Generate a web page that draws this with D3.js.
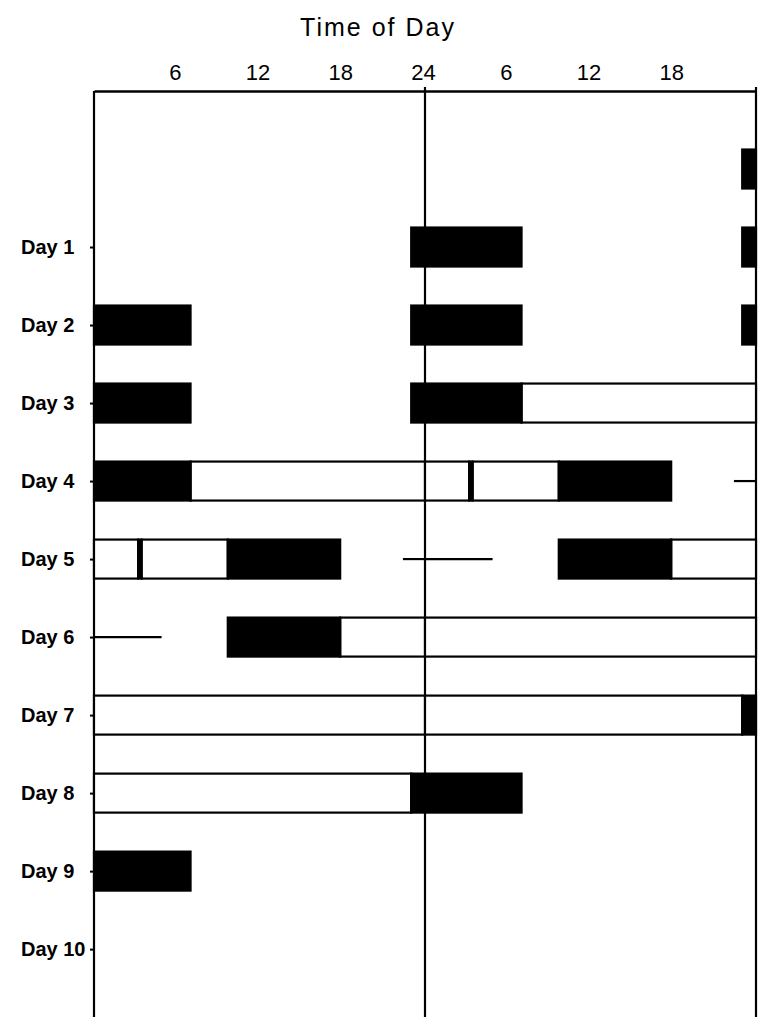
<!DOCTYPE html>
<html>
<head>
<meta charset="utf-8">
<script src="https://cdn.jsdelivr.net/npm/d3@7"></script>
<style>
  body { margin: 0; background: #fff; }
</style>
</head>
<body>
<div id="actogram"></div>
<script>
// row labels (row 0 at the top has none)
const dayLabels = ["", "Day 1", "Day 2", "Day 3", "Day 4", "Day 5", "Day 6", "Day 7", "Day 8", "Day 9", "Day 10"];

// hour ticks along the top (double plotted, 0-48 h)
const hourTicks = [6, 12, 18, 24, 30, 36, 42];

// bouts per calendar day: [day, startHour, endHour]
const sleepBouts = [
    [1, 23, 24],
    [2, 0, 7], [2, 23, 24],
    [3, 0, 7], [3, 23, 24],
    [4, 0, 7],
    [5, 3.2, 3.45], [5, 9.7, 17.85],
    [6, 9.7, 17.85],
    [8, 23, 24],
    [9, 0, 7]
];
const wakeBouts = [
    [4, 7, 24],
    [5, 0, 3.2], [5, 3.45, 9.7],
    [6, 17.85, 24],
    [7, 0, 24],
    [8, 0, 23]
];
const lineBouts = [
    [5, 22.4, 24],
    [6, 0, 4.9]
];

function drawChart() {
    const W = 784, H = 1030;
    const svg = d3.select("#actogram")
        .append("svg")
        .attr("width", W)
        .attr("height", H);

    const plotTop = 91, plotBottom = 1017;

    const x = d3.scaleLinear()
        .domain([0, 48])
        .range([94, 756]);

    const y = d3.scaleLinear()
        .domain([-1, 10.87])
        .range([plotTop, plotBottom]);

    const barH = 39;

    // each calendar day shows up twice: left half of its own row and right half of the row above
    function doublePlot(bouts) {
        const out = [];
        bouts.forEach(function (b) {
            const day = b[0];
            if (day <= 10) out.push({ row: day, s: b[1], e: b[2] });
            if (day - 1 >= 0) out.push({ row: day - 1, s: b[1] + 24, e: b[2] + 24 });
        });
        return out;
    }

    // midnight and right edge lines
    svg.append("g")
        .selectAll("line")
        .data([24, 48])
        .enter()
        .append("line")
        .attr("x1", d => x(d))
        .attr("x2", d => x(d))
        .attr("y1", plotTop - 4)
        .attr("y2", plotBottom)
        .attr("stroke", "#000")
        .attr("stroke-width", 2.2);

    // left axis with small ticks
    const yAxis = svg.append("g")
        .attr("transform", "translate(" + x(0) + ",0)")
        .call(d3.axisLeft(y)
            .tickValues(d3.range(1, dayLabels.length))
            .tickSize(4)
            .tickSizeOuter(0)
            .tickFormat(""));
    yAxis.select(".domain")
        .attr("d", "M0," + plotTop + "V" + plotBottom)
        .attr("stroke-width", 2.2);
    yAxis.selectAll(".tick line").attr("stroke-width", 2);

    // row labels
    svg.append("g")
        .selectAll("text")
        .data(dayLabels)
        .enter()
        .append("text")
        .attr("x", 21)
        .attr("y", (d, i) => y(i))
        .attr("dy", "0.36em")
        .style("font-family", "'Liberation Sans', Arial, sans-serif")
        .style("font-size", "20px")
        .style("font-weight", "bold")
        .text(d => d);

    // wake bouts (open boxes)
    svg.append("g")
        .selectAll("rect")
        .data(doublePlot(wakeBouts))
        .enter()
        .append("rect")
        .attr("x", d => x(d.s))
        .attr("y", d => y(d.row) - barH / 2)
        .attr("width", d => x(d.e) - x(d.s))
        .attr("height", barH)
        .attr("fill", "#fff")
        .attr("stroke", "#000")
        .attr("stroke-width", 2.2);

    // sleep bouts (filled)
    svg.append("g")
        .selectAll("rect")
        .data(doublePlot(sleepBouts))
        .enter()
        .append("rect")
        .attr("x", d => x(d.s))
        .attr("y", d => y(d.row) - barH / 2)
        .attr("width", d => x(d.e) - x(d.s))
        .attr("height", barH)
        .attr("fill", "#000")
        .attr("stroke", "#000")
        .attr("stroke-width", 2.2);

    // short horizontal lines
    svg.append("g")
        .selectAll("line")
        .data(doublePlot(lineBouts))
        .enter()
        .append("line")
        .attr("x1", d => x(d.s))
        .attr("x2", d => x(d.e))
        .attr("y1", d => y(d.row))
        .attr("y2", d => y(d.row))
        .attr("stroke", "#000")
        .attr("stroke-width", 2.2);

    // top axis
    const xAxis = svg.append("g")
        .attr("transform", "translate(0," + plotTop + ")")
        .call(d3.axisTop(x)
            .tickValues(hourTicks)
            .tickSize(0)
            .tickSizeOuter(0)
            .tickPadding(11)
            .tickFormat(d => d > 24 ? d - 24 : d));
    xAxis.select(".domain").attr("stroke-width", 2.6);
    xAxis.selectAll("text")
        .attr("dx", "-2")
        .style("font-family", "'Liberation Sans Narrow', 'Arial Narrow', 'Liberation Sans', sans-serif")
        .style("font-size", "22px")
        .style("fill", "#000");

    // title
    svg.append("text")
        .attr("x", 378)
        .attr("y", 36)
        .attr("text-anchor", "middle")
        .style("font-family", "'Liberation Sans', Arial, sans-serif")
        .style("font-size", "25px")
        .style("letter-spacing", "2px")
        .text("Time of Day");
}
drawChart();
</script>
</body>
</html>
